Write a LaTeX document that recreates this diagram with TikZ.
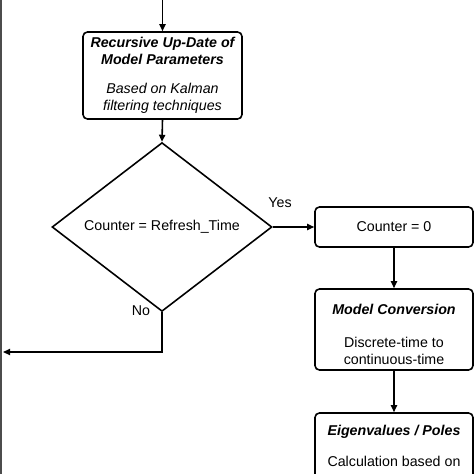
\documentclass[tikz,border=0pt]{standalone}
\usepackage{fontspec}
\setmainfont{Liberation Sans}
\usetikzlibrary{shapes.geometric,arrows.meta}

\begin{document}
\begin{tikzpicture}[x=0.02cm,y=-0.02cm,
    box/.style={draw,line width=0.9pt,rounded corners=2.5pt,inner sep=0pt},
    txt/.style={font=\fontsize{8.1}{9.7}\selectfont,align=center,inner sep=0pt},
    ttl/.style={txt,font=\fontsize{8.1}{9.7}\selectfont\bfseries\itshape},
    flow/.style={draw,line width=0.9pt,-{Triangle[length=4pt,width=3.5pt]}}]
            \useasboundingbox (0,0) rectangle (474,474);
            \clip (0,0) rectangle (474,474);
            \draw [line width=1.2pt, black!70] (1,0) -- (1,474);
            \coordinate (In) at (162.5,-5);
            \coordinate (Out) at (3,352);
            \node [box, minimum width=3.18cm, minimum height=1.74cm] (Upd) at (162.5,75.5) {};
            \node [ttl] (UpdT) at (162.5,51) {Recursive Up-Date of\\Model Parameters};
            \node [txt, font=\fontsize{8.1}{9.7}\selectfont\itshape] (UpdB) at (162.5,98.5) {Based on Kalman\\filtering techniques};
            \node [txt, draw, diamond, line width=0.9pt, minimum width=4.4cm, minimum height=2.94cm] (Chk) at (162,227) {Counter = Refresh\_Time};
            \node [txt] (Yes) at (280,203) {Yes};
            \node [txt] (No) at (141,311) {No};
            \node [txt, box, minimum width=3.16cm, minimum height=0.8cm] (Cnt) at (394,227) {Counter = 0};
            \node [box, minimum width=3.16cm, minimum height=1.62cm] (Conv) at (394,329.5) {};
            \node [ttl] (ConvT) at (394,309) {Model Conversion};
            \node [txt] (ConvB) at (394,350.5) {Discrete-time to\\continuous-time};
            \node [box, minimum width=3.16cm, minimum height=2.14cm] (Eig) at (394,466.5) {};
            \node [ttl] (EigT) at (394,431.5) {Eigenvalues / Poles};
            \node [txt] (EigB) at (394,461) {Calculation based on};
            \draw [flow] (In) -- (Upd.north);
            \draw [flow] (Upd.south) -- (Chk.north);
            \draw [flow] (Chk.east) -- (Cnt.west);
            \draw [flow] (Chk.south) |- (Out);
            \draw [flow] (Cnt.south) -- (Conv.north);
            \draw [flow] (Conv.south) -- (Eig.north);
        \end{tikzpicture}
\end{document}
